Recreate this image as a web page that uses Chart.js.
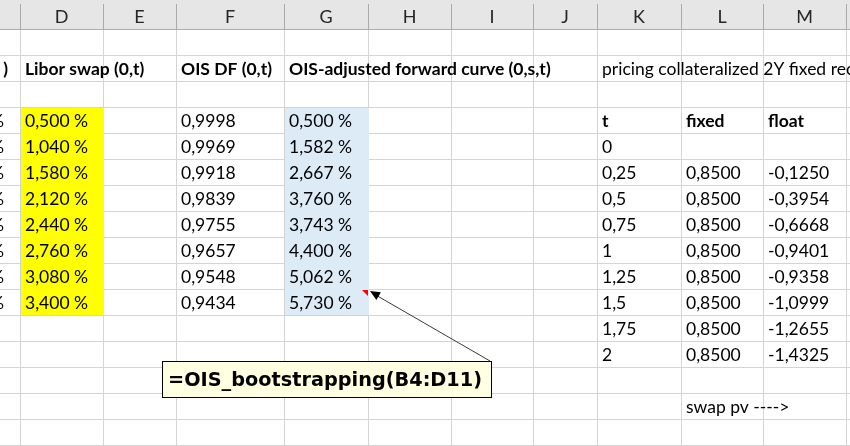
<!DOCTYPE html>
<html>
<head>
<meta charset="utf-8">
<script src="https://cdn.jsdelivr.net/npm/chart.js@4.4.1/dist/chart.umd.min.js"></script>
<style>
html,body{margin:0;padding:0;background:#fff;overflow:hidden}
#wrap{width:850px;height:446px;position:relative}
canvas{display:block}
</style>
</head>
<body>
<div id="wrap"><canvas id="c" width="850" height="446"></canvas></div>
<script>
// ---------- data ----------
const columnLetters = ['C','D','E','F','G','H','I','J','K','L','M','N'];
const liborSwapHeader = 'Libor swap (0,t)';
const oisDfHeader = 'OIS DF (0,t)';
const oisFwdHeader = 'OIS-adjusted forward curve (0,s,t)';
const pricingTitle = 'pricing collateralized 2Y fixed receiver swap';
const liborSwap = [0.500, 1.040, 1.580, 2.120, 2.440, 2.760, 3.080, 3.400];
const oisDF = [0.9998, 0.9969, 0.9918, 0.9839, 0.9755, 0.9657, 0.9548, 0.9434];
const oisFwd = [0.500, 1.582, 2.667, 3.760, 3.743, 4.400, 5.062, 5.730];
const legHeaders = ['t', 'fixed', 'float'];
const tGrid = [0, 0.25, 0.5, 0.75, 1, 1.25, 1.5, 1.75, 2];
const fixedLeg = [null, 0.85, 0.85, 0.85, 0.85, 0.85, 0.85, 0.85, 0.85];
const floatLeg = [null, -0.1250, -0.3954, -0.6668, -0.9401, -0.9358, -1.0999, -1.2655, -1.4325];
const swapPvLabel = 'swap pv ---->';
const commentText = '=OIS_bootstrapping(B4:D11)';

// ---------- sheet layout (sheet units) ----------
const colEdges = [-60, 20, 103, 176, 284, 368, 451, 533, 597, 681, 763, 846, 930];
const HEADER_H = 29, ROW_H = 26;
function rowTop(r){ return HEADER_H + ROW_H * (r - 1); }
const rowEdges = [];
for (let r = 1; r <= 17; r++) rowEdges.push(rowTop(r));
function colIdx(letter){ return columnLetters.indexOf(letter); }

const FONT = 'Lato';
const TXT = 17.5;

const sheetPlugin = {
  id: 'sheet',
  beforeDatasetsDraw(chart){
    const ctx = chart.ctx, xs = chart.scales.x, ys = chart.scales.y;
    const X = v => Math.round(xs.getPixelForValue(v));
    const Y = v => Math.round(ys.getPixelForValue(v));
    ctx.save();
    function fillCells(letter, r0, r1, color){
      const c = colIdx(letter);
      const x0 = X(colEdges[c]) + 1, x1 = X(colEdges[c+1]) + 1;
      const y0 = Y(rowTop(r0)) + 1, y1 = Y(rowTop(r1 + 1));
      ctx.fillStyle = color;
      ctx.fillRect(x0, y0, x1 - x0, y1 - y0);
    }
    fillCells('D', 4, 4 + liborSwap.length - 1, '#ffff00');
    fillCells('G', 4, 4 + oisFwd.length - 1, '#ddebf7');
    ctx.fillStyle = '#e6e6e6';
    ctx.fillRect(0, 0, chart.width, Y(HEADER_H));
    ctx.fillStyle = '#ababab';
    ctx.fillRect(0, Y(HEADER_H), chart.width, 1);
    for (let i = 1; i < colEdges.length - 1; i++) {
      ctx.fillRect(X(colEdges[i]), Y(4), 1, Y(HEADER_H) - Y(4));
    }
    ctx.fillStyle = '#262626';
    ctx.font = '18px ' + FONT;
    ctx.textAlign = 'center';
    ctx.textBaseline = 'alphabetic';
    columnLetters.forEach((L, i) => {
      const cx = (xs.getPixelForValue(colEdges[i]) + xs.getPixelForValue(colEdges[i+1])) / 2;
      ctx.fillText(L, cx, Y(23));
    });
    ctx.restore();
  },
  afterDatasetsDraw(chart){
    const ctx = chart.ctx, xs = chart.scales.x, ys = chart.scales.y;
    const X = v => xs.getPixelForValue(v);
    const Y = v => ys.getPixelForValue(v);
    ctx.save();
    ctx.textBaseline = 'alphabetic';
    ctx.textAlign = 'left';
    function cell(letter, r, str, bold){
      if (str === null || str === undefined) return;
      const c = colIdx(letter);
      ctx.font = (bold ? 'bold ' : '') + TXT + 'px ' + FONT;
      ctx.fillStyle = '#000';
      ctx.fillText(str, X(colEdges[c]) + 5, Y(rowTop(r)) + 20);
    }
    const pct = v => v.toFixed(3).replace('.', ',') + ' %';
    const num4 = v => v === null ? null : v.toFixed(4).replace('.', ',');
    const tfmt = v => String(v).replace('.', ',');

    ctx.save();
    ctx.beginPath(); ctx.rect(0, Y(HEADER_H) + 1, X(colEdges[1]), chart.height); ctx.clip();
    ctx.fillStyle = '#000';
    ctx.textAlign = 'right';
    ctx.font = 'bold ' + TXT + 'px ' + FONT;
    ctx.fillText(')', X(colEdges[1]) - 12, Y(rowTop(2)) + 20);
    ctx.font = TXT + 'px ' + FONT;
    liborSwap.forEach((v, i) => ctx.fillText('%', X(colEdges[1]) - 16, Y(rowTop(4 + i)) + 20));
    ctx.restore();
    ctx.textAlign = 'left';

    cell('D', 2, liborSwapHeader, true);
    cell('F', 2, oisDfHeader, true);
    cell('G', 2, oisFwdHeader, true);
    cell('K', 2, pricingTitle, false);

    liborSwap.forEach((v, i) => cell('D', 4 + i, pct(v)));
    oisDF.forEach((v, i) => cell('F', 4 + i, num4(v)));
    oisFwd.forEach((v, i) => cell('G', 4 + i, pct(v)));

    cell('K', 4, legHeaders[0], true);
    cell('L', 4, legHeaders[1], true);
    cell('M', 4, legHeaders[2], true);
    tGrid.forEach((v, i) => {
      cell('K', 5 + i, tfmt(v));
      cell('L', 5 + i, num4(fixedLeg[i]));
      cell('M', 5 + i, num4(floatLeg[i]));
    });
    cell('L', 15, swapPvLabel);

    const g = colIdx('G');
    const gx = Math.round(X(colEdges[g + 1]));
    const gy = Math.round(Y(rowTop(11)));
    ctx.fillStyle = '#ff0000';
    ctx.beginPath();
    ctx.moveTo(gx - 6, gy + 1); ctx.lineTo(gx, gy + 1); ctx.lineTo(gx, gy + 7); ctx.closePath();
    ctx.fill();

    const ax0 = X(490), ay0 = Y(361), ax1 = X(370), ay1 = Y(291);
    ctx.strokeStyle = '#3a3a3a';
    ctx.lineWidth = 1;
    ctx.beginPath(); ctx.moveTo(ax0, ay0); ctx.lineTo(ax1 + 4, ay1 + 3); ctx.stroke();
    const ang = Math.atan2(ay0 - ay1, ax0 - ax1);
    const L = 10, W = 4.5;
    ctx.fillStyle = '#000';
    ctx.beginPath();
    ctx.moveTo(ax1, ay1);
    ctx.lineTo(ax1 + L * Math.cos(ang) - W * Math.sin(ang), ay1 + L * Math.sin(ang) + W * Math.cos(ang));
    ctx.lineTo(ax1 + L * Math.cos(ang) + W * Math.sin(ang), ay1 + L * Math.sin(ang) - W * Math.cos(ang));
    ctx.closePath(); ctx.fill();

    const bx0 = Math.round(X(162)) + 0.5, by0 = Math.round(Y(361)) + 0.5;
    const bx1 = Math.round(X(491)) + 0.5, by1 = Math.round(Y(397)) + 0.5;
    ctx.fillStyle = '#ffffe1';
    ctx.fillRect(bx0, by0, bx1 - bx0, by1 - by0);
    ctx.strokeStyle = '#000';
    ctx.strokeRect(bx0, by0, bx1 - bx0, by1 - by0);
    ctx.fillStyle = '#000';
    ctx.font = 'bold 20px "DejaVu Sans"';
    const w = ctx.measureText(commentText).width;
    const target = X(482) - X(168);
    ctx.save();
    ctx.translate(X(168), Y(386));
    ctx.scale(target / w, 1);
    ctx.fillText(commentText, 0, 0);
    ctx.restore();

    ctx.restore();
  }
};

new Chart(document.getElementById('c'), {
  type: 'scatter',
  data: { datasets: [{ data: [], pointRadius: 0 }] },
  options: {
    responsive: false,
    animation: false,
    devicePixelRatio: 1,
    layout: { padding: 0 },
    plugins: { legend: { display: false }, tooltip: { enabled: false } },
    scales: {
      x: {
        type: 'linear', min: 0, max: 850,
        afterBuildTicks: s => { s.ticks = colEdges.filter(v => v >= 0 && v <= 850).map(v => ({ value: v })); },
        ticks: { display: false },
        grid: { color: '#d4d4d4', lineWidth: 1, drawTicks: false },
        border: { display: false }
      },
      y: {
        type: 'linear', min: 0, max: 446, reverse: true,
        afterBuildTicks: s => { s.ticks = rowEdges.map(v => ({ value: v })); },
        ticks: { display: false },
        grid: { color: '#d4d4d4', lineWidth: 1, drawTicks: false },
        border: { display: false }
      }
    }
  },
  plugins: [sheetPlugin]
});
</script>
</body>
</html>
